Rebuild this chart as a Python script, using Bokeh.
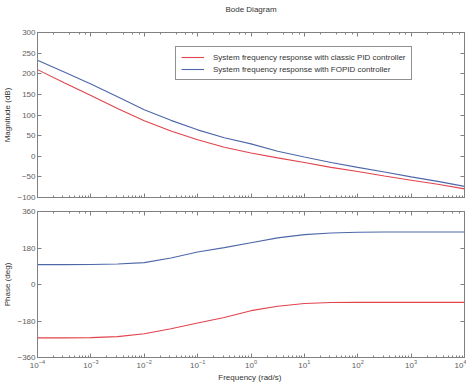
from bokeh.plotting import figure
from bokeh.layouts import column
from bokeh.models import (FixedTicker, LinearAxis, LogAxis, Legend, LegendItem,
                          Range1d)
from bokeh.embed import file_html
from bokeh.resources import INLINE

# ---- data ----
freq = [1e-4, 3.16e-4, 1e-3, 3.16e-3, 1e-2, 3.16e-2, 1e-1, 3.16e-1, 1e0,
        3.16e0, 1e1, 3.16e1, 1e2, 3.16e2, 1e3, 3.16e3, 1e4]
mag_pid = [210, 178, 147, 116, 86, 61, 40, 22, 8, -4, -15, -27, -37, -48, -58, -68, -79]
mag_fopid = [233, 204, 175, 144, 113, 87, 64, 45, 30, 12, -2, -15, -27, -38, -50, -61, -73]
phase_pid = [-263, -263, -262, -257, -243, -218, -190, -163, -129, -107, -94, -89, -88, -88, -88, -88, -88]
phase_fopid = [98, 98, 99, 101, 108, 131, 160, 182, 206, 230, 246, 254, 258, 259, 259, 259, 259]
mag_ticks = [-100, -50, 0, 50, 100, 150, 200, 250, 300]
phase_ticks = [-360, -180, 0, 180, 360]
legend_labels = ["System frequency response with classic PID controller",
                 "System frequency response with FOPID controller"]
title_text = "Bode Diagram"

RED = "#e2434c"
BLUE = "#4d67a8"
AX = "#808080"
TXT = "#606060"
FONT = "Liberation Sans"


def style_axis(ax, labels=True, minor=False):
    ax.axis_line_color = AX
    ax.major_tick_line_color = AX
    ax.minor_tick_line_color = AX
    ax.major_tick_in = 4
    ax.major_tick_out = 0
    ax.minor_tick_in = 2 if minor else 0
    ax.minor_tick_out = 0
    ax.major_label_text_font = FONT
    ax.major_label_text_color = TXT
    if labels:
        ax.major_label_text_font_size = "8px"
        ax.major_label_standoff = 2
    else:
        ax.major_label_text_font_size = "1px"
        ax.major_label_text_alpha = 0
        ax.major_label_standoff = 0
    ax.axis_label_text_font = FONT
    ax.axis_label_text_font_size = "8px"
    ax.axis_label_text_font_style = "normal"
    ax.axis_label_text_color = "#333333"
    ax.axis_label_standoff = 2


def make_fig(height, yr, ticks, top, bottom, ylabel, xlabels, top_label=None):
    p = figure(width=466, height=height, x_axis_type="log",
               x_range=Range1d(1e-4, 1e4), y_range=Range1d(*yr),
               output_backend="svg", toolbar_location=None,
               min_border_left=36, min_border_right=2,
               min_border_top=top, min_border_bottom=bottom)
    p.title = None
    p.xgrid.visible = False
    p.ygrid.visible = False
    p.outline_line_color = AX
    p.background_fill_color = "white"
    p.border_fill_color = "white"
    p.yaxis.ticker = FixedTicker(ticks=ticks)
    style_axis(p.yaxis[0])
    p.yaxis.axis_label = ylabel
    style_axis(p.xaxis[0], labels=xlabels, minor=True)
    if xlabels:
        p.xaxis.axis_label = "Frequency  (rad/s)"
    # box ticks (right / top)
    r = LinearAxis(ticker=FixedTicker(ticks=ticks))
    style_axis(r, labels=False)
    p.add_layout(r, "right")
    t = LogAxis()
    style_axis(t, labels=False, minor=True)
    if top_label:
        t.axis_label = top_label
        t.axis_label_standoff = 19
    p.add_layout(t, "above")
    return p


p1 = make_fig(204, (-100, 300), mag_ticks, 32, 7, "Magnitude (dB)", False,
              top_label=title_text)

l1 = p1.line(freq, mag_pid, line_color=RED, line_width=1.1)
l2 = p1.line(freq, mag_fopid, line_color=BLUE, line_width=1.1)

leg = Legend(items=[LegendItem(label=legend_labels[0], renderers=[l1]),
                    LegendItem(label=legend_labels[1], renderers=[l2])],
             location=(138, 117))
leg.label_text_font = FONT
leg.label_text_font_size = "8px"
leg.label_text_color = "#333333"
leg.glyph_width = 23
leg.glyph_height = 10
leg.label_height = 10
leg.label_standoff = 9
leg.padding = 5
leg.spacing = 2
leg.margin = 0
leg.border_line_color = "#222222"
leg.border_line_width = 1
leg.background_fill_color = "white"
p1.add_layout(leg, "center")

p2 = make_fig(182, (-360, 360), phase_ticks, 7, 29, "Phase (deg)", True)
p2.line(freq, phase_pid, line_color=RED, line_width=1.1)
p2.line(freq, phase_fopid, line_color=BLUE, line_width=1.1)

layout = column(p1, p2, spacing=0)
open("out.html", "w").write(file_html(layout, INLINE))
